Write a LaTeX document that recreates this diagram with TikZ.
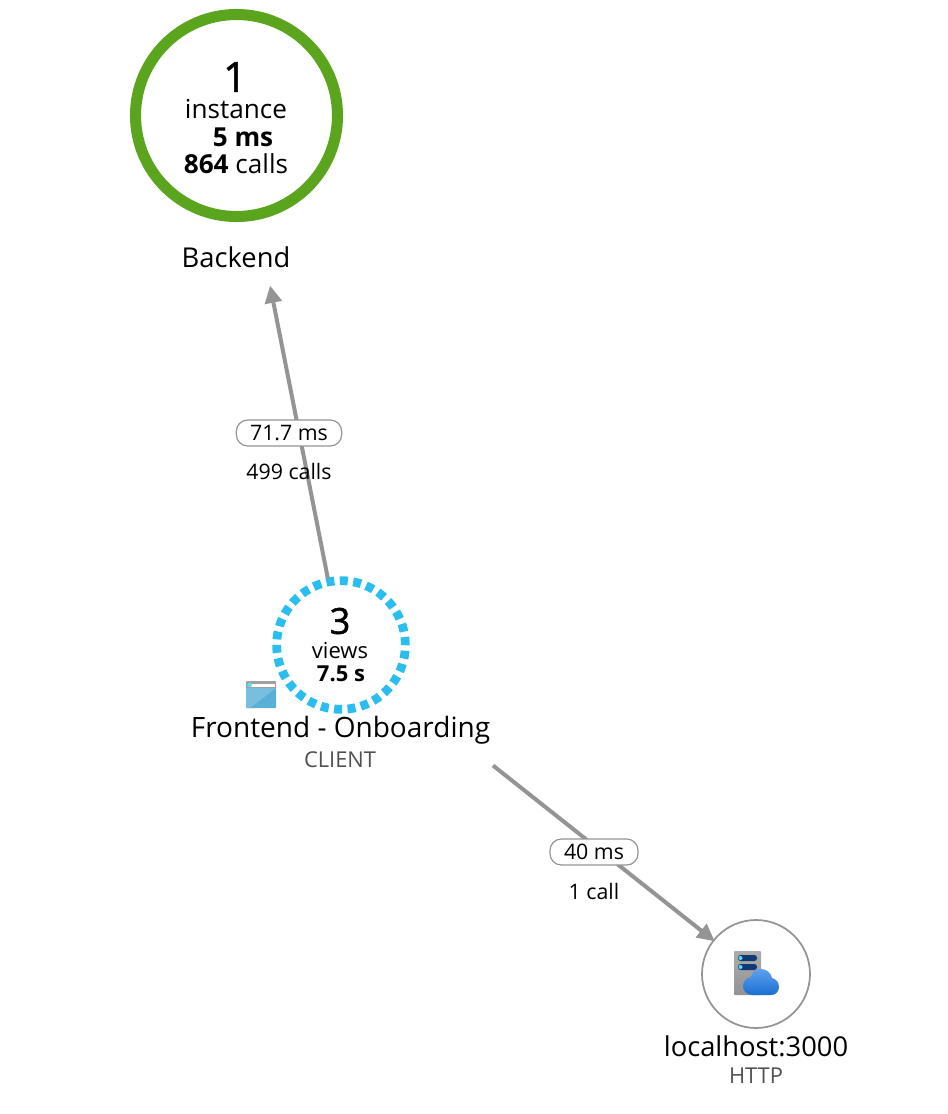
\documentclass[tikz,border=0pt]{standalone}
\usepackage{fontspec}
\setmainfont{Open Sans}
\usetikzlibrary{arrows.meta}
\definecolor{ringgreen}{HTML}{5BA51E}
\definecolor{ringblue}{HTML}{29BDF0}
\definecolor{edgegray}{HTML}{949494}
\definecolor{subgray}{HTML}{505050}
\definecolor{cloudtop}{HTML}{5EA0EF}
\definecolor{cloudbot}{HTML}{1B6FD0}
\definecolor{barnavy}{HTML}{0F3A75}
\definecolor{ledblue}{HTML}{5FD8FA}
\definecolor{winblue}{HTML}{5AAFD6}
\definecolor{winlight}{HTML}{78BEDF}
\definecolor{wingray}{HTML}{A0A0A0}
\newcommand{\semibold}{\addfontfeature{FakeBold=1.5}}
\tikzset{
  edge/.style={draw=edgegray,line width=3pt,-{Triangle[length=13pt,width=12.5pt]}},
  pill/.style={draw=edgegray,fill=white,rounded corners=8.5pt,line width=0.9pt,minimum height=19.5pt,inner sep=0pt,font=\fontsize{16}{18}\selectfont},
  elabel/.style={font=\fontsize{16}{18}\selectfont,inner sep=0pt},
  bigname/.style={font=\fontsize{20.5}{23}\selectfont,inner sep=0pt},
  subname/.style={font=\fontsize{16.4}{18}\selectfont,inner sep=0pt,text=subgray},
}
\begin{document}
\begin{tikzpicture}[x=0.75pt,y=-0.75pt]
\useasboundingbox (0,0) rectangle (948,1114);
% circles
\node[circle,draw=ringgreen,line width=8.3pt,minimum size=151.5pt,inner sep=0pt] (backend) at (236.5,115.5) {};
\node[circle,draw=ringblue,line width=6.6pt,minimum size=96.5pt,inner sep=0pt,dash pattern=on 6pt off 4.1pt] (front) at (341,645) {};
\node[circle,draw=edgegray,line width=1.3pt,minimum size=81pt,inner sep=0pt] (local) at (756,974) {};
% edges
\draw[edge,shorten <=51pt,shorten >=130pt] (front.center) -- (backend.center);
\draw[edge,shorten <=145.5pt,shorten >=39.5pt] (front.center) -- (local.center);
% backend text
\node[inner sep=0pt,font=\fontsize{31}{33}\selectfont\semibold] (b1) at (235,77) {1};
\node[inner sep=0pt,font=\fontsize{19.6}{21}\selectfont] (b2) at (236,109) {instance};
\node[inner sep=0pt,font=\fontsize{19.6}{21}\selectfont\bfseries] (b3) at (243,137) {5 ms};
\node[inner sep=0pt,font=\fontsize{19.6}{21}\selectfont] (b4) at (236,164) {\textbf{864} calls};
\node[bigname] (bname) at (236,257) {Backend};
% front text
\node[inner sep=0pt,font=\fontsize{27}{29}\selectfont\semibold] (f1) at (340,621) {3};
\node[inner sep=0pt,font=\fontsize{16.5}{18}\selectfont] (f2) at (340,650.5) {views};
\node[inner sep=0pt,font=\fontsize{16.5}{18}\selectfont\bfseries] (f3) at (341,674) {7.5 s};
\node[bigname,font=\fontsize{21}{23}\selectfont] (fname) at (340.5,730.5) {Frontend - Onboarding};
\node[subname] (fsub) at (340,759.5) {CLIENT};
% pills
\node[pill,minimum width=79pt] (p1) at (289,433) {71.7 ms};
\node[elabel] (c1) at (289,471) {499 calls};
\node[pill,minimum width=66pt] (p2) at (594,852) {40 ms};
\node[elabel] (c2) at (594,891) {1 call};
% local names
\node[bigname] (lname) at (756,1046) {localhost:3000};
\node[subname] (lsub) at (756,1076) {HTTP};
% browser icon
\fill[rounded corners=0.6pt,fill=wingray] (246,681) rectangle (276,708);
\fill[fill=white] (251,684) rectangle (275,686.5);
\fill[fill=ledblue] (249.5,685) circle (2.4);
\fill[fill=winblue] (246,688) rectangle (276,708);
\fill[fill=winlight] (246,688) -- (276,688) -- (250,708) -- (246,708) -- cycle;
% server + cloud icon
\shade[top color=gray!65,bottom color=gray!85,rounded corners=0.6pt] (734,951) rectangle (761,995);
\fill[fill=barnavy,rounded corners=2pt] (738,955) rectangle (757,961);
\fill[fill=barnavy,rounded corners=2pt] (738,964) rectangle (757,970);
\fill[fill=ledblue] (740.5,958) circle (2);
\fill[fill=ledblue] (740.5,967) circle (2);
\shade[top color=cloudtop,bottom color=cloudbot]
  (752,995) .. controls (746,995) and (743,990) .. (743,986)
  .. controls (743,982) and (746,978) .. (751,977)
  .. controls (752,972) and (756,969) .. (761,969)
  .. controls (767,969) and (771,973) .. (772,978)
  .. controls (776,979) and (779,982) .. (779,987)
  .. controls (779,992) and (775,995) .. (771,995) -- cycle;
\end{tikzpicture}
\end{document}
